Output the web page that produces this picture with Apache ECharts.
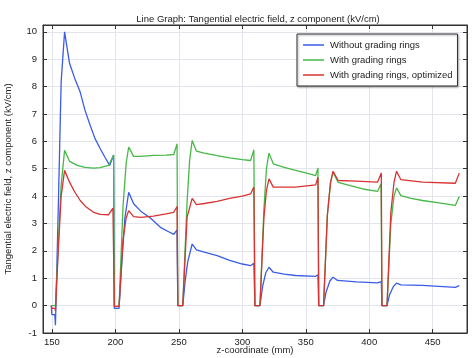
<!DOCTYPE html>
<html><head><meta charset="utf-8">
<script src="https://cdn.jsdelivr.net/npm/echarts@6/dist/echarts.min.js"></script>
<style>html,body{margin:0;padding:0;background:#fff}#c{width:474px;height:358px}</style>
</head><body><div id="c"></div>
<script>
var titleText = 'Line Graph: Tangential electric field, z component (kV/cm)';
var xName = 'z-coordinate (mm)';
var yName = 'Tangential electric field, z component (kV/cm)';
var seriesNames = ['Without grading rings', 'With grading rings', 'With grading rings, optimized'];

// Without grading rings (blue)
var zBlue = [149.5,150,152.3,152.8,155,157.3,160,163.9,168,172.3,176,180.2,184,188.1,192,195.5,198.6,199.2,202.9,
  205,207.5,210.5,214.4,220,227.6,235.5,242,246,248.6,249.2,253.1,
  255,257,260.5,263.9,270,280.2,290,300,306.5,309.1,309.9,313.9,
  316,318.5,321,324.4,333,342,357.8,359.6,360.2,364,
  366,369,371.5,375,390,406.5,409.5,410,414,
  416,419,421.5,424.9,442,467.8,470.9];
var vBlue = [0,-0.33,-0.33,-0.72,3.5,8.17,10.0,8.85,8.3,7.8,7.15,6.58,6.1,5.73,5.4,5.12,5.5,-0.1,-0.1,
  1.5,3.2,4.14,3.72,3.45,3.2,2.86,2.7,2.6,2.77,0,0,
  0.9,1.6,2.25,2.04,1.95,1.83,1.65,1.52,1.46,1.55,0,0,
  0.7,1.2,1.4,1.22,1.15,1.1,1.07,1.13,0,0,
  0.5,0.9,1.04,0.92,0.87,0.83,0.88,0,0,
  0.4,0.7,0.82,0.76,0.74,0.67,0.73];

// With grading rings (green)
var zGreen = [149.5,152.8,155,157.3,160,163.9,170,176,182.8,188,194.7,198.6,199.2,202.9,
  206,208.5,210.5,214.4,220,230,240,246,248.6,249.2,253.1,
  256.5,258.5,260.5,263.9,270,280.2,290,300,306.5,309.1,309.9,313.9,
  317,319,321,324.4,333,342,350,357.8,359.6,360.2,364,
  367,369.5,371.5,375.5,385,395,406.5,409.3,410,414,
  417,419.5,421.5,424.9,433,442,455,467.8,470.9];
var vGreen = [0,0,2.2,4.4,5.67,5.27,5.12,5.05,5.02,5.04,5.12,5.5,-0.03,-0.03,
  3.6,5.2,5.79,5.45,5.45,5.49,5.5,5.52,5.91,0,0,
  3.8,5.3,6.03,5.64,5.57,5.48,5.4,5.33,5.3,5.69,0,0,
  3.5,5.0,5.57,5.18,5.05,4.94,4.85,4.75,5.03,0,0,
  3.3,4.5,4.87,4.5,4.38,4.26,4.17,4.45,0,0,
  3.0,4.0,4.3,4.02,3.92,3.84,3.75,3.66,3.99];

// With grading rings, optimized (red)
var zRed = [149.5,150,152.5,152.8,155,157.3,160,163.9,168,172.3,177,182.8,188,194.7,198.1,199.2,202.9,
  206,208.5,210.5,214.4,220,230,240,246,248.6,249.2,253.1,
  256.5,260.5,263.9,270,280.2,290,300,306.5,309.1,309.9,313.9,
  317,319,321,324.4,342,357.8,359.6,360.2,364,
  367,369.5,371.5,375.5,390,406.5,409.5,410,414,
  417,419.5,421.5,424.9,442,467.8,470.9];
var vRed = [0,-0.1,-0.1,-0.2,2.0,4.0,4.94,4.51,4.15,3.84,3.6,3.41,3.33,3.32,3.56,-0.03,-0.03,
  2.4,3.2,3.47,3.25,3.22,3.27,3.35,3.41,3.62,0,0,
  3.23,3.92,3.69,3.73,3.81,3.92,4.0,4.08,4.33,0,0,
  3.2,4.2,4.63,4.33,4.33,4.41,4.69,0,0,
  3.3,4.5,4.91,4.57,4.55,4.51,4.84,0,0,
  3.4,4.5,4.91,4.6,4.51,4.47,4.84];

function zip(a, b) { return a.map(function (v, i) { return [v, b[i]]; }); }

var FONT = 'Liberation Sans';
var TXT = '#222';
var colors = ['#3a5ce8', '#46b846', '#d93232'];

var chart = echarts.init(document.getElementById('c'), null, {renderer: 'canvas'});
var xCommon = {type: 'value', min: 143, max: 477, splitNumber: 6};
var yCommon = {type: 'value', min: -1, max: 10.25, interval: 1};
chart.setOption({
  animation: false,
  backgroundColor: '#fff',
  color: colors,
  title: {text: titleText, left: 253, textAlign: 'center', top: 9,
    textStyle: {fontFamily: FONT, fontSize: 9.5, fontWeight: 'normal', color: TXT}},
  grid: {left: 43, right: 7, top: 25, bottom: 25, outerBoundsMode: 'none', containLabel: false,
    show: true, borderColor: '#333', borderWidth: 1, backgroundColor: 'transparent'},
  legend: {orient: 'vertical', left: 297, top: 34,
    data: seriesNames, icon: 'rect', itemWidth: 21, itemHeight: 1.5, itemGap: 5,
    padding: [6, 5, 6, 6], borderColor: '#333', borderWidth: 1, borderRadius: 0, backgroundColor: '#fff',
    shadowColor: 'rgba(0,0,0,0.35)', shadowBlur: 2, shadowOffsetX: 1, shadowOffsetY: 1,
    textStyle: {fontFamily: FONT, fontSize: 9.5, color: TXT, padding: [0, 0, 0, 1]}},
  xAxis: [
    Object.assign({}, xCommon, {position: 'bottom', name: xName, nameLocation: 'middle', nameGap: 12,
      nameMoveOverlap: false,
      nameTextStyle: {fontFamily: FONT, fontSize: 9.5, color: TXT},
      axisLine: {show: true, onZero: false, lineStyle: {color: '#333'}},
      axisTick: {show: true, inside: true, length: 4, lineStyle: {color: '#333'}},
      axisLabel: {showMinLabel: false, showMaxLabel: false, margin: 4, fontFamily: FONT, fontSize: 9.5, color: TXT},
      splitLine: {show: true, lineStyle: {color: '#e4e4ec', width: 1}}}),
    Object.assign({}, xCommon, {position: 'top',
      axisLine: {show: true, onZero: false, lineStyle: {color: '#333'}},
      axisTick: {show: true, inside: true, length: 4, lineStyle: {color: '#333'}},
      axisLabel: {show: false}, splitLine: {show: false}})
  ],
  yAxis: [
    Object.assign({}, yCommon, {position: 'left', name: yName, nameLocation: 'middle', nameGap: 30,
      nameMoveOverlap: false,
      nameTextStyle: {fontFamily: FONT, fontSize: 9.5, color: TXT},
      axisLine: {show: true, onZero: false, lineStyle: {color: '#333'}},
      axisTick: {show: true, inside: true, length: 4, lineStyle: {color: '#333'}},
      axisLabel: {showMaxLabel: false, margin: 6, fontFamily: FONT, fontSize: 9.5, color: TXT},
      splitLine: {show: true, lineStyle: {color: '#e4e4ec', width: 1}}}),
    Object.assign({}, yCommon, {position: 'right',
      axisLine: {show: true, onZero: false, lineStyle: {color: '#333'}},
      axisTick: {show: true, inside: true, length: 4, lineStyle: {color: '#333'}},
      axisLabel: {show: false}, splitLine: {show: false}})
  ],
  series: [
    {name: seriesNames[0], type: 'line', data: zip(zBlue, vBlue), showSymbol: false, symbol: 'none', lineStyle: {width: 1.3}},
    {name: seriesNames[1], type: 'line', data: zip(zGreen, vGreen), showSymbol: false, symbol: 'none', lineStyle: {width: 1.3}},
    {name: seriesNames[2], type: 'line', data: zip(zRed, vRed), showSymbol: false, symbol: 'none', lineStyle: {width: 1.3}}
  ]
});
</script></body></html>
